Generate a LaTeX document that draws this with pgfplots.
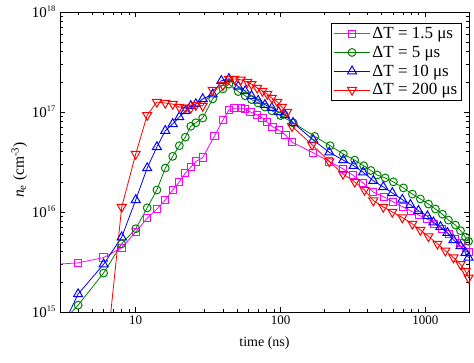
\documentclass[border=0pt]{standalone}
\usepackage{fontspec}
\setmainfont{Liberation Serif}
\usepackage{pgfplots}
\pgfplotsset{compat=1.18}
\definecolor{mgreen}{RGB}{0,128,0}
\definecolor{mmag}{RGB}{255,0,255}
\definecolor{mblue}{RGB}{0,0,255}
\definecolor{mred}{RGB}{255,0,0}
\newcommand{\tpow}[1]{10\raisebox{0.95ex}{\fontsize{8.5}{8.5}\selectfont #1}}
\begin{document}
\begin{tikzpicture}
\useasboundingbox (-60pt,-50pt) rectangle (414pt,312pt);
\begin{axis}[
 at={(0pt,0pt)}, anchor=south west,
 scale only axis, width=409pt, height=300pt,
 xmode=log, ymode=log,
 xmin=3, xmax=2000, ymin=1e15, ymax=1e18,
 xtick={10,100,1000}, xticklabels={10,100,1000},
 ytick={1e15,1e16,1e17,1e18},
 yticklabels={\tpow{15},\tpow{16},\tpow{17},\tpow{18}},
 minor xtick={3,4,5,6,7,8,9,20,30,40,50,60,70,80,90,200,300,400,500,600,700,800,900,2000},
 minor ytick={2e15,3e15,4e15,5e15,6e15,7e15,8e15,9e15,2e16,3e16,4e16,5e16,6e16,7e16,8e16,9e16,2e17,3e17,4e17,5e17,6e17,7e17,8e17,9e17},
 tick align=inside, major tick length=5pt, minor tick length=3pt,
 axis line style={line width=0.9pt},
 every tick/.style={black, line width=0.7pt},
 xlabel={time (ns)},
 ylabel={\textit{n}\textsubscript{e} (cm\textsuperscript{-3})},
 xticklabel style={font=\fontsize{13}{14}\selectfont},
 yticklabel style={font=\fontsize{15}{16}\selectfont, xshift=-1pt},
 xlabel style={font=\fontsize{14}{15}\selectfont, yshift=-6pt},
 ylabel style={font=\fontsize{15.5}{17}\selectfont, yshift=-2pt, xshift=-8pt},
 legend style={at={(0.982,0.963)}, anchor=north east, draw=black, line width=0.6pt,
   font=\fontsize{17}{19}\selectfont, row sep=2pt, inner sep=2pt},
 legend cell align=left,
 legend image code/.code={\draw[mark repeat=2,mark phase=2] plot coordinates {(0pt,0pt)(18pt,0pt)(36pt,0pt)};},
 every axis plot/.append style={line width=0.8pt},
]
\addplot[color=mmag, mark=square, mark size=3.6pt, mark options={solid,line width=1pt}] coordinates {
(2,2.9e15)(4,3.1e15)(6,3.5e15)(8,4.4e15)(10,6.3e15)(12,8.7e15)(14,1.07e16)(16,1.32e16)
(18,1.66e16)(20,2.0e16)(22,2.45e16)(24,2.8e16)(26,3.2e16)(29,3.5e16)(35,5.75e16)(40,8.3e16)
(44,1.05e17)(48,1.09e17)(53,1.09e17)(57,1.07e17)(62,1.0e17)(69,9.3e16)(75,8.7e16)(81,7.9e16)
(88,7.1e16)(97,6.6e16)(108,5.9e16)(120,5.0e16)(168,3.9e16)(217,3.2e16)(270,2.7e16)(315,2.34e16)
(372,1.95e16)(437,1.58e16)(520,1.41e16)(600,1.26e16)(700,1.12e16)(800,1.02e16)(900,9.3e15)
(1030,8.5e15)(1150,7.6e15)(1300,6.8e15)(1450,6.0e15)(1600,5.4e15)(1750,4.9e15)(1900,4.4e15)(2000,4.0e15)
};
\addlegendentry{ΔT = 1.5 μs}
\addplot[color=mgreen, mark=o, mark size=3.9pt, mark options={solid,line width=1pt}] coordinates {
(3,7.5e14)(4,1.17e15)(6,2.45e15)(8,4.8e15)(10,6.8e15)(12,1.1e16)(14,1.66e16)(16,2.75e16)
(18,3.6e16)(20,4.6e16)(22,5.6e16)(24,7.2e16)(26,7.8e16)(29,8.7e16)(34,1.35e17)(40,1.7e17)
(44,1.9e17)(51,1.6e17)(57,1.45e17)(63,1.33e17)(70,1.23e17)(78,1.12e17)(87,1.03e17)(100,9.2e16)
(122,7.8e16)(172,5.7e16)(220,4.6e16)(271,3.8e16)(325,3.3e16)(375,2.9e16)(420,2.6e16)(465,2.34e16)
(528,2.19e16)(601,2.0e16)(705,1.74e16)(813,1.51e16)(923,1.35e16)(1050,1.2e16)(1173,1.07e16)
(1311,9.5e15)(1442,8.3e15)(1613,7.4e15)(1748,6.5e15)(1892,5.6e15)(1986,5.1e15)
};
\addlegendentry{ΔT = 5 μs}
\addplot[color=mblue, mark=triangle, mark size=5.2pt, mark options={solid,line width=1pt}] coordinates {
(3,6.3e14)(4,1.51e15)(6,3.0e15)(8,5.6e15)(10,1.32e16)(12,2.75e16)(14,4.47e16)(16,6.5e16)
(18,7.6e16)(20,8.9e16)(22,1.02e17)(24,1.15e17)(26,1.2e17)(29,1.35e17)(34,1.5e17)(39,2.05e17)
(44,2.15e17)(51,1.8e17)(57,1.62e17)(63,1.45e17)(70,1.3e17)(78,1.18e17)(87,1.1e17)(97,1.0e17)
(107,9.3e16)(122,7.8e16)(168,5.25e16)(217,3.95e16)(271,3.3e16)(320,2.9e16)(372,2.5e16)(437,2.05e16)
(512,1.78e16)(591,1.55e16)(693,1.33e16)(788,1.18e16)(895,1.03e16)(1032,9.1e15)(1136,7.9e15)
(1270,7.1e15)(1419,6.2e15)(1563,5.25e15)(1748,4.57e15)(1892,3.9e15)(1986,3.5e15)
};
\addlegendentry{ΔT = 10 μs}
\addplot[color=mred, mark=triangle, mark size=5.2pt, mark options={solid,line width=1pt,rotate=180}] coordinates {
(6,2e14)(8,1.12e16)(10,3.8e16)(12,9.3e16)(14,1.26e17)(16,1.23e17)(18,1.2e17)(20,1.12e17)
(22,1.1e17)(24,1.1e17)(26,1.17e17)(29,1.15e17)(34,1.66e17)(40,1.85e17)(44,2.14e17)(48,2.14e17)
(53,2.1e17)(59,2.0e17)(63,1.9e17)(69,1.74e17)(75,1.62e17)(81,1.51e17)(87,1.38e17)(95,1.26e17)
(102,1.12e17)(111,1.0e17)(120,7.2e16)(165,4.7e16)(217,3.2e16)(270,2.4e16)(325,2.0e16)(380,1.66e16)
(437,1.3e16)(512,1.12e16)(591,1.0e16)(693,8.8e15)(813,7.6e15)(923,6.6e15)(1050,5.7e15)
(1211,4.8e15)(1374,4.1e15)(1563,3.5e15)(1748,3.0e15)(1892,2.55e15)(1986,2.2e15)
};
\addlegendentry{ΔT = 200 μs}
\end{axis}
\end{tikzpicture}
\end{document}
